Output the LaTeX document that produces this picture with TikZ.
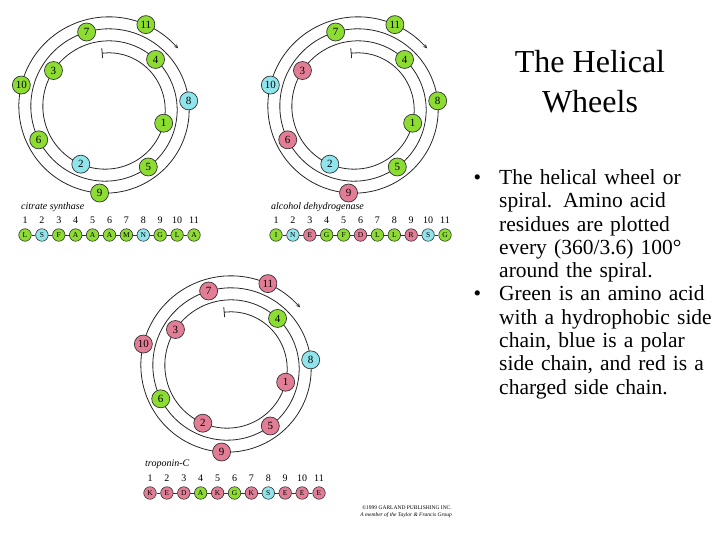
\documentclass[tikz,border=0pt]{standalone}
\usepackage{fontspec}
\setmainfont{Liberation Serif}
\definecolor{cG}{HTML}{8CDC32}
\definecolor{cB}{HTML}{90E4EC}
\definecolor{cR}{HTML}{E27D95}
\tikzset{
 res/.style={circle,draw=black!80,line width=0.7pt,minimum size=18pt,inner sep=0pt,font=\fontsize{11}{11}\selectfont},
 aa/.style={circle,draw=black!80,line width=0.6pt,minimum size=12.5pt,inner sep=0pt,font=\fontsize{7.5}{7.5}\selectfont},
 spiral/.style={line width=0.8pt,black!85},
 link/.style={line width=0.7pt,black!80},
 num/.style={font=\fontsize{10}{10}\selectfont,inner sep=0pt},
 seqname/.style={font=\fontsize{10}{10}\selectfont\itshape,anchor=west,inner sep=0pt},
}
\newcommand{\helwheel}[4]{%
 \draw[spiral,-stealth] plot[smooth,domain=0:1135,samples=150]
   ({#2+(55+12*\x/360)*cos(95-\x)},{#3+(55+12*\x/360)*sin(95-\x)});
 \draw[spiral] ({#2+50*cos(95)},{#3+50*sin(95)}) -- ({#2+60*cos(95)},{#3+60*sin(95)});
 \foreach \c [count=\k] in {#4} {
   \pgfmathsetmacro{\t}{110+100*(\k-1)}
   \node[res,fill=c\c] (#1r\k) at ({#2+(55+12*\t/360)*cos(95-\t)},{#3+(55+12*\t/360)*sin(95-\t)}) {\k};
 }}
\begin{document}
\begin{tikzpicture}[x=1pt,y=1pt]
\useasboundingbox (0,0) rectangle (720,-540);
\helwheel{w1}{107}{-108}{G,B,G,G,G,G,G,B,G,G,G}
\helwheel{w2}{356}{-108}{G,B,R,G,G,R,G,G,R,B,G}
\helwheel{w3}{229}{-367}{R,R,R,G,R,G,R,B,R,R,R}
\node[seqname] (s1name) at (21,-207) {citrate synthase};
\node[seqname] (s2name) at (271,-207) {alcohol dehydrogenase};
\node[seqname] (s3name) at (145,-464) {troponin-C};
\foreach \s/\x/\y/\seq in {s1/25/-220/{G/L,B/S,G/F,G/A,G/A,G/A,G/M,B/N,G/G,G/L,G/A},
  s2/276/-220/{G/I,B/N,R/E,G/G,G/F,R/D,G/L,G/L,R/R,B/S,G/G},
  s3/150/-478/{R/K,R/E,R/D,G/A,R/K,G/G,R/K,B/S,R/E,R/E,R/E}} {
  \foreach \c/\l [count=\k] in \seq {
   \node[num] (\s n\k) at ({\x+16.9*(\k-1)},\y) {\k};
   \node[aa,fill=c\c] (\s a\k) at ({\x+16.9*(\k-1)},\y-15) {\l};
  }
  \foreach \k [evaluate=\k as \j using int(\k+1)] in {1,...,10} {\draw[link] (\s a\k) -- (\s a\j);}
}
\node[font=\fontsize{5.5}{6.5}\selectfont,align=right,anchor=east,inner sep=0pt] (copy) at (452,-512)
 {\textcopyright1999 GARLAND PUBLISHING INC.\\ \itshape A member of the Taylor \& Francis Group};
\node[font=\fontsize{32}{40}\selectfont,align=center,inner sep=0pt] (title) at (590,-82) {The Helical\\Wheels};
\node[font=\fontsize{21.5}{23.3}\selectfont,anchor=north west,text width=244pt,inner sep=0pt] (body) at (471,-161)
 {\begin{list}{\textbullet}{\leftmargin=28pt\labelwidth=10pt\labelsep=18pt\itemsep=0pt\parsep=0pt\topsep=0pt\rightmargin=0pt}
 \raggedright
 \item The helical wheel or spiral. Amino acid residues are plotted every (360/3.6) 100° around the spiral.
 \item Green is an amino acid with a hydrophobic side chain, blue is a polar side chain, and red is a charged side chain.
 \end{list}};
\end{tikzpicture}
\end{document}
